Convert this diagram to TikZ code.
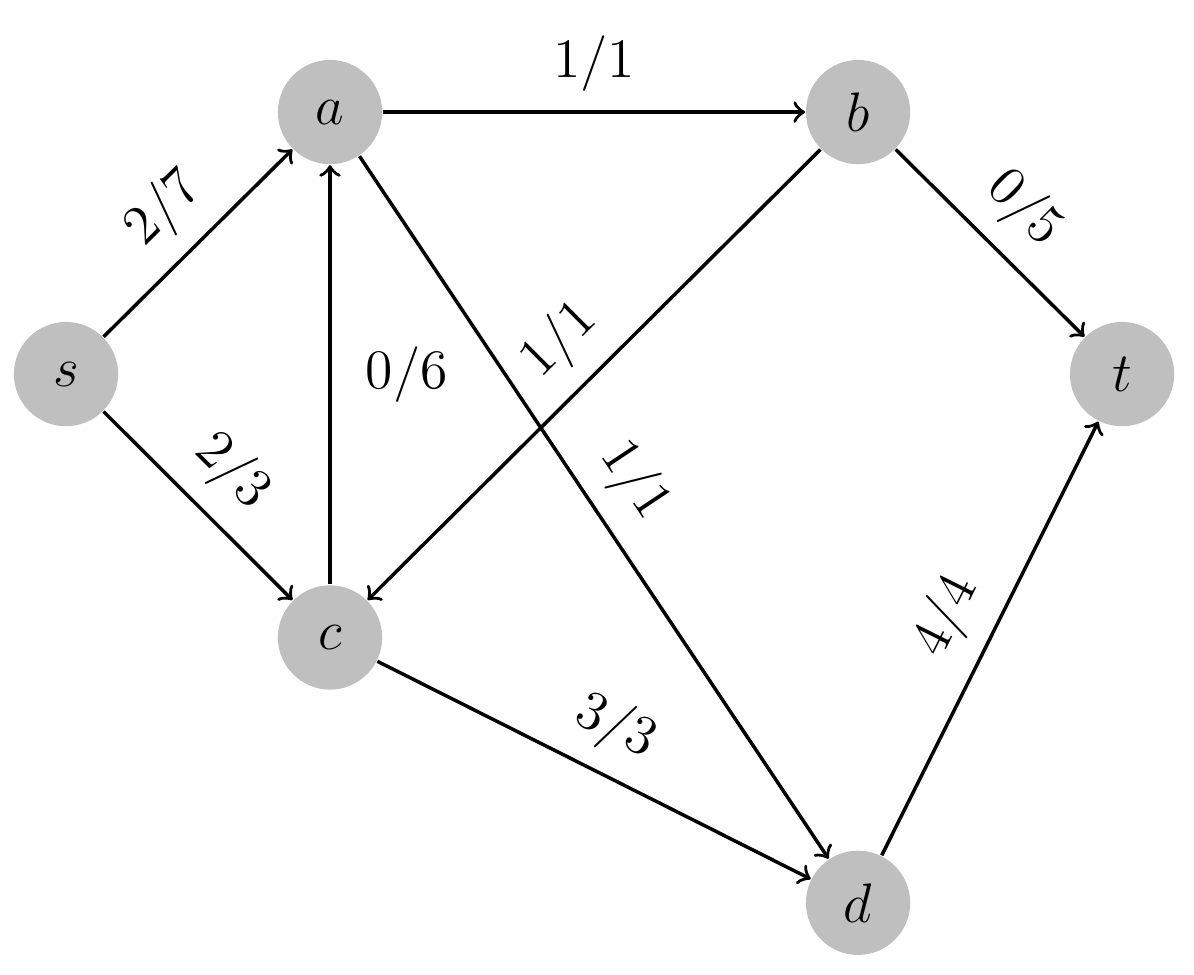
\documentclass[tikz,border=0pt]{standalone}
\begin{document}
\begin{tikzpicture}[
  vtx/.style={circle,fill=black!25,minimum size=0.79cm,inner sep=0pt,font=\large},
  edge/.style={->,line width=0.75pt},
  lbl/.style={font=\large,sloped,above,inner sep=4pt}]
\useasboundingbox (0,0) rectangle (9.045,7.379);
\node[vtx] (s) at (0.5,4.545) {$s$};
\node[vtx] (a) at (2.5,6.53) {$a$};
\node[vtx] (b) at (6.5,6.53) {$b$};
\node[vtx] (t) at (8.5,4.545) {$t$};
\node[vtx] (c) at (2.5,2.55) {$c$};
\node[vtx] (d) at (6.5,0.54) {$d$};
\draw[edge] (s) -- node[lbl]{2/7} (a);
\draw[edge] (s) -- node[lbl]{2/3} (c);
\draw[edge] (c) -- node[right,font=\large,pos=0.5,xshift=4pt]{0/6} (a);
\draw[edge] (a) -- node[lbl]{1/1} (b);
\draw[edge] (b) -- node[lbl]{1/1} (c);
\draw[edge] (a) -- node[lbl]{1/1} (d);
\draw[edge] (b) -- node[lbl]{0/5} (t);
\draw[edge] (c) -- node[lbl]{3/3} (d);
\draw[edge] (d) -- node[lbl]{4/4} (t);
\end{tikzpicture}
\end{document}
